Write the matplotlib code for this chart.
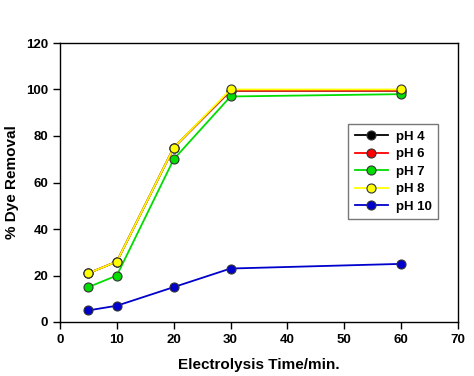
import matplotlib
matplotlib.use("Agg")
import matplotlib.pyplot as plt

plt.rcParams['font.family'] = ['Liberation Sans', 'DejaVu Sans']
plt.rcParams['font.weight'] = 'bold'

time = [5, 10, 20, 30, 60]
ph4 = [21, 26, 75, 99.5, 99.5]
ph6 = [21, 26, 75, 99.5, 99.5]
ph7 = [15, 20, 70, 97, 98]
ph8 = [21, 26, 75, 100, 100]
ph10 = [5, 7, 15, 23, 25]

series = [
    ('pH 4', ph4, 'black'),
    ('pH 6', ph6, 'red'),
    ('pH 7', ph7, '#00dd00'),
    ('pH 8', ph8, '#ffff00'),
    ('pH 10', ph10, '#0000cc'),
]

fig = plt.figure(figsize=(4.74, 3.76), dpi=100)
ax = fig.add_axes([60 / 474, 1 - 322 / 376, 398 / 474, 279 / 376])

for label, vals, col in series:
    ax.plot(time, vals, color=col, lw=1.3, marker='o', ms=6.5,
            markerfacecolor=col, markeredgecolor='#333333', markeredgewidth=0.8,
            label=label)

ax.set_xlim(0, 70)
ax.set_ylim(0, 120)
ax.set_xticks(range(0, 71, 10))
ax.set_yticks(range(0, 121, 20))
ax.tick_params(direction='out', length=5, width=1, labelsize=9.5, top=False, right=False)
for lab in ax.get_xticklabels() + ax.get_yticklabels():
    lab.set_fontweight('bold')
for sp in ax.spines.values():
    sp.set_linewidth(1)

ax.set_xlabel('Electrolysis Time/min.', fontsize=11, fontweight='bold', labelpad=9)
ax.set_ylabel('% Dye Removal', fontsize=11, fontweight='bold')
ax.yaxis.set_label_coords(-41 / 398, 0.5)

leg = ax.legend(loc='upper left', bbox_to_anchor=(288 / 398, (322 - 124) / 279),
                borderaxespad=0, fontsize=9.5, frameon=True, fancybox=False,
                handlelength=2.5, borderpad=0.5, labelspacing=0.4, handletextpad=0.6)
leg.get_frame().set_edgecolor('#555555')
leg.get_frame().set_linewidth(1)
for t in leg.get_texts():
    t.set_fontweight('bold')

fig.savefig('out.png', dpi=100)
